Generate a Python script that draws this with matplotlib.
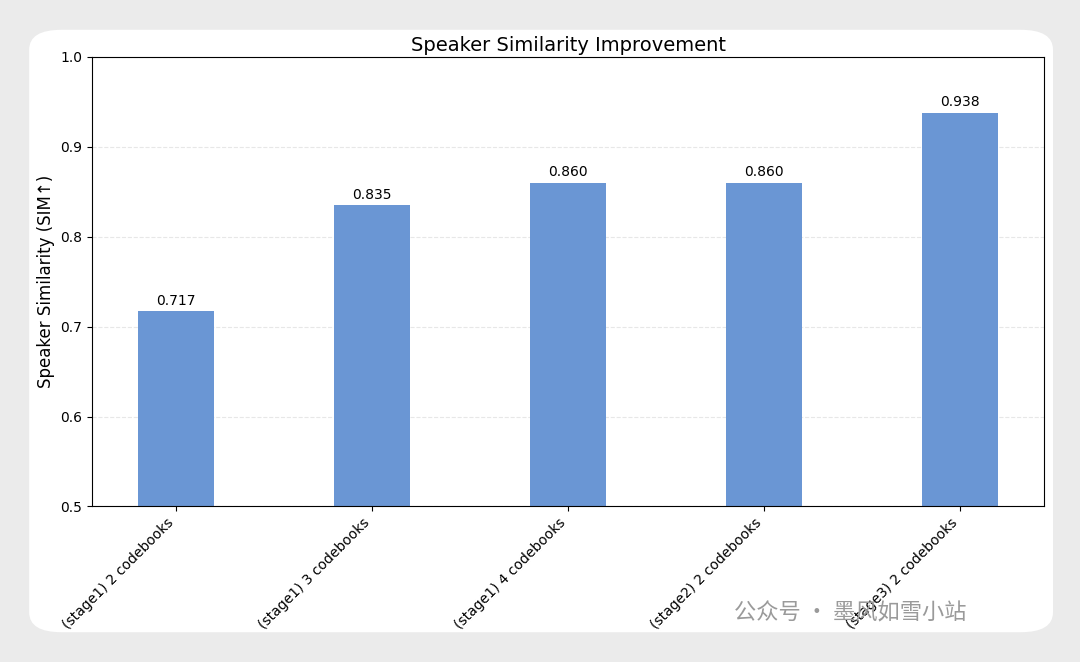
import matplotlib

matplotlib.use("Agg")

import matplotlib.pyplot as plt
from matplotlib.patches import FancyBboxPatch

plt.rcParams["font.family"] = ["DejaVu Sans", "Noto Sans CJK SC"]

configs = [
    "(stage1) 2 codebooks",
    "(stage1) 3 codebooks",
    "(stage1) 4 codebooks",
    "(stage2) 2 codebooks",
    "(stage3) 2 codebooks",
]
sim_values = [0.717, 0.835, 0.860, 0.860, 0.938]

fig = plt.figure(figsize=(10.8, 6.62), dpi=100)
fig.patch.set_facecolor("#ebebeb")

# white rounded card behind everything
bg = fig.add_axes([0, 0, 1, 1], zorder=-10)
bg.axis("off")
bg.add_patch(FancyBboxPatch((0.027, 0.045), 0.948, 0.91, boxstyle="round,pad=0,rounding_size=0.03",
                            transform=bg.transAxes, facecolor="white", edgecolor="none"))

ax = fig.add_axes([0.085, 0.235, 0.882, 0.679], zorder=1)
x = range(len(configs))
bars = ax.bar(x, sim_values, width=0.39, color="#6a96d4", zorder=2)
for b, v in zip(bars, sim_values):
    ax.text(b.get_x() + b.get_width() / 2, v + 0.004, f"{v:.3f}", ha="center", va="bottom", fontsize=10)

ax.set_ylim(0.5, 1.0)
ax.set_xlim(-0.43, len(configs) - 0.57)
ax.set_xticks(list(x))
ax.set_xticklabels(configs, rotation=45, ha="right", fontsize=9)
ax.set_ylabel("Speaker Similarity (SIM↑)", fontsize=12)
ax.set_title("Speaker Similarity Improvement", fontsize=14, pad=4)
ax.yaxis.grid(True, linestyle="--", alpha=0.3, zorder=0)
ax.tick_params(labelsize=10)

fig.text(0.68, 0.065, "公众号 · 墨风如雪小站", fontsize=16, color="#9a9a9a",
         family=["Noto Sans CJK SC", "DejaVu Sans"], zorder=5)

fig.savefig("out.png", dpi=100, facecolor=fig.get_facecolor())
